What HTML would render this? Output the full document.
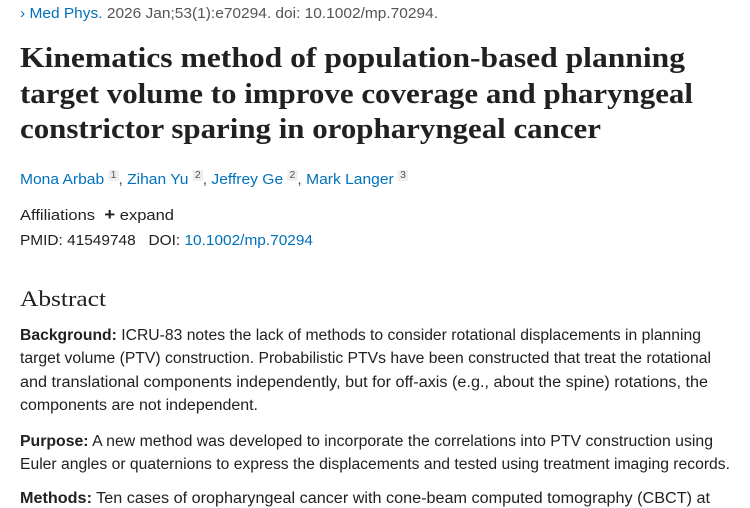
<!DOCTYPE html>
<html><head><meta charset="utf-8">
<style>
body{margin:0;width:750px;height:500px;overflow:hidden;background:#fff;font-family:"Liberation Sans",sans-serif;color:#212121;position:relative}
.l{position:absolute;left:20px;white-space:nowrap;transform-origin:0 50%}
.blue{color:#0071bc}
.ttl{font-family:"Liberation Serif",serif;font-weight:bold;font-size:29px;color:#212121}
.body{font-size:15.5px}
sup{font-size:10px;color:#555;background:#eee;padding:0 2px;vertical-align:6px}
</style></head><body>
<div class="l blue" data-w="418" style="top:5px;font-size:15px">&#8250; Med Phys. <span style="color:#555">2026 Jan;53(1):e70294. doi: 10.1002/mp.70294.</span></div>
<div class="l ttl" data-w="665" style="top:42px">Kinematics method of population-based planning</div>
<div class="l ttl" data-w="673" style="top:78px">target volume to improve coverage and pharyngeal</div>
<div class="l ttl" data-w="581" style="top:113px">constrictor sparing in oropharyngeal cancer</div>
<div class="l blue" data-w="388" style="top:170px;font-size:15px">Mona Arbab <sup>1</sup><span style="color:#555">,</span> Zihan Yu <sup>2</sup><span style="color:#555">,</span> Jeffrey Ge <sup>2</sup><span style="color:#555">,</span> Mark Langer <sup>3</sup></div>
<div class="l" data-w="154" style="top:205px;font-size:15px">Affiliations &nbsp;<b style="font-size:17px">+</b> expand</div>
<div class="l" data-w="293" style="top:232px;font-size:15px">PMID: 41549748 &nbsp; DOI: <span class="blue">10.1002/mp.70294</span></div>
<div class="l" data-w="86" style="top:286px;font-family:'Liberation Serif',serif;font-size:22px">Abstract</div>
<div class="l body" data-w="681" style="top:327px"><b>Background:</b> ICRU-83 notes the lack of methods to consider rotational displacements in planning</div>
<div class="l body" data-w="691" style="top:350px">target volume (PTV) construction. Probabilistic PTVs have been constructed that treat the rotational</div>
<div class="l body" data-w="688" style="top:374px">and translational components independently, but for off-axis (e.g., about the spine) rotations, the</div>
<div class="l body" data-w="238" style="top:397px">components are not independent.</div>
<div class="l body" data-w="693" style="top:433px"><b>Purpose:</b> A new method was developed to incorporate the correlations into PTV construction using</div>
<div class="l body" data-w="710" style="top:456px">Euler angles or quaternions to express the displacements and tested using treatment imaging records.</div>
<div class="l body" data-w="690" style="top:490px"><b>Methods:</b> Ten cases of oropharyngeal cancer with cone-beam computed tomography (CBCT) at</div>
<script>
document.querySelectorAll('[data-w]').forEach(function(e){
  var w=e.getBoundingClientRect().width;var t=+e.getAttribute('data-w');
  if(w>0)e.style.transform='scaleX('+(t/w)+')';
});
</script>
</body></html>
